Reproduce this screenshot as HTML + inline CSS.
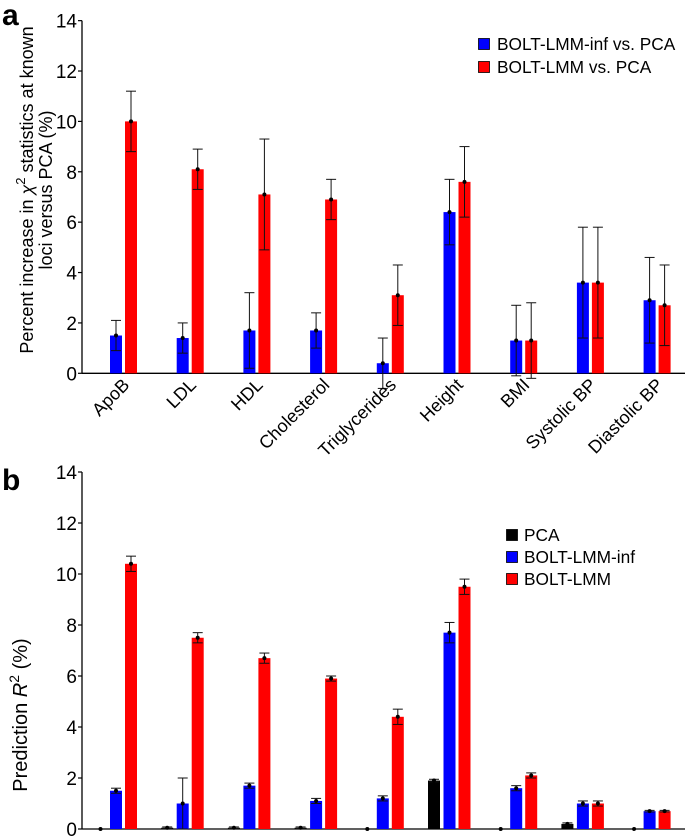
<!DOCTYPE html>
<html><head><meta charset="utf-8"><style>
html,body{margin:0;padding:0;background:#fff;}
svg{display:block;font-family:"Liberation Sans",sans-serif;}
</style></head><body>
<svg id="fig" width="685" height="838" viewBox="0 0 685 838"></svg>
<script>
const categories=["ApoB","LDL","HDL","Cholesterol","Triglycerides","Height","BMI","Systolic BP","Diastolic BP"];
const aBlue=[1.5,1.4,1.7,1.7,0.4,6.4,1.3,3.6,2.9];
const aBlueErr=[0.6,0.6,1.5,0.7,1.0,1.3,1.4,2.2,1.7];
const aRed=[10,8.1,7.1,6.9,3.1,7.6,1.3,3.6,2.7];
const aRedErr=[1.2,0.8,2.2,0.8,1.2,1.4,1.5,2.2,1.6];
const bPca=[0,0.05,0.05,0.05,0,1.9,0,0.2,0];
const bPcaErr=[0,0.03,0.03,0.03,0,0.05,0,0.04,0];
const bBlue=[1.5,1.0,1.7,1.1,1.2,7.7,1.6,1.0,0.7];
const bBlueErr=[0.1,1.0,0.1,0.1,0.1,0.4,0.1,0.1,0.03];
const bRed=[10.4,7.5,6.7,5.9,4.4,9.5,2.1,1.0,0.7];
const bRedErr=[0.3,0.2,0.2,0.1,0.3,0.3,0.1,0.1,0.03];
const yTicks=[0,2,4,6,8,10,12,14];

const NS="http://www.w3.org/2000/svg";
const svg=document.getElementById('fig');
function el(t,a,p){const e=document.createElementNS(NS,t);for(const k in a)e.setAttribute(k,a[k]);(p||svg).appendChild(e);return e;}
const AX=82, GX0=123.5, GSTEP=66.7;
function gx(i){return GX0+i*GSTEP;}

function panel(y0,unit,name){
  const g=el('g',{});
  
  
  const ys=v=>y0-v*unit;
  const ax=el('line',{x1:AX,y1:ys(14),x2:AX,y2:y0,stroke:'#000','stroke-width':1.3},g);
  
  
  const bx=el('line',{x1:AX,y1:y0,x2:685,y2:y0,stroke:'#000','stroke-width':1.3},g);
  
  
  yTicks.forEach(t=>{
    el('line',{x1:AX-4,y1:ys(t),x2:AX,y2:ys(t),stroke:'#000','stroke-width':1.2},g);
    const tx=el('text',{x:AX-5,y:ys(t)+7,'text-anchor':'end','font-size':19},g);
    tx.textContent=t;
    
    
  });
  return {g,ys};
}
function bar(g,ys,x,w,v,e,col,nm){
  const r=el('rect',{x:x,y:ys(Math.max(v,0)),width:w,height:Math.abs(ys(0)-ys(v)),fill:col},g);
  
  
  const c=x+w/2;
  if(e>0){
    el('line',{x1:c,y1:ys(v-e),x2:c,y2:ys(v+e),stroke:'#111','stroke-width':1},g);
    el('line',{x1:c-5,y1:ys(v+e),x2:c+5,y2:ys(v+e),stroke:'#111','stroke-width':1},g);
    el('line',{x1:c-5,y1:ys(v-e),x2:c+5,y2:ys(v-e),stroke:'#111','stroke-width':1},g);
  }
  el('circle',{cx:c,cy:ys(v),r:2,fill:'#000'},g);
}

// Panel a
const A=panel(373.3,25.19,'panel-a');
categories.forEach((c,i)=>{
  bar(A.g,A.ys,gx(i)-13.5,12,aBlue[i],aBlueErr[i],'#0000ff','bar-bolt-lmm-inf-'+i);
  bar(A.g,A.ys,gx(i)+1.5,12,aRed[i],aRedErr[i],'#ff0000','bar-bolt-lmm-'+i);
  const t=el('text',{x:gx(i)+7,y:386,'text-anchor':'end','font-size':18,transform:`rotate(-45 ${gx(i)+7} 386)`},A.g);
  t.textContent=c;
  
  
});
// Panel b
const B=panel(829,25.5,'panel-b');
categories.forEach((c,i)=>{
  bar(B.g,B.ys,gx(i)-29,12,bPca[i],bPcaErr[i],'#000000','bar-pca-'+i);
  bar(B.g,B.ys,gx(i)-13.5,12,bBlue[i],bBlueErr[i],'#0000ff','bar-bolt-lmm-inf-b-'+i);
  bar(B.g,B.ys,gx(i)+1.5,12,bRed[i],bRedErr[i],'#ff0000','bar-bolt-lmm-b-'+i);
});
</script>
<svg style="position:absolute;left:0;top:0" width="685" height="838">
<g font-family="Liberation Sans, sans-serif">
<text x="2" y="25" font-size="30" font-weight="bold">a</text>
<text x="2" y="490" font-size="30" font-weight="bold">b</text>
<g transform="translate(33,190) rotate(-90)" font-size="18" text-anchor="middle">
<text x="0" y="0">Percent increase in <tspan font-style="italic">χ</tspan><tspan dy="-8" font-size="13">2</tspan><tspan dy="8"> statistics at known</tspan></text>
<text x="0" y="19">loci versus PCA (%)</text>
</g>
<text transform="translate(27,715) rotate(-90)" font-size="20" text-anchor="middle">Prediction <tspan font-style="italic">R</tspan><tspan dy="-8" font-size="14">2</tspan><tspan dy="8"> (%)</tspan></text>
<g font-size="17.3">
<rect x="478.5" y="38.5" width="11" height="11" fill="#0000ff" stroke="#000" stroke-width="0.8"/>
<text x="497" y="50">BOLT-LMM-inf vs. PCA</text>
<rect x="478.5" y="61.5" width="11" height="11" fill="#ff0000" stroke="#000" stroke-width="0.8"/>
<text x="497" y="73">BOLT-LMM vs. PCA</text>
</g>
<g font-size="17.3">
<rect x="506.5" y="529.5" width="11" height="11" fill="#000" stroke="#000" stroke-width="0.8"/>
<text x="524" y="541">PCA</text>
<rect x="506.5" y="551.5" width="11" height="11" fill="#0000ff" stroke="#000" stroke-width="0.8"/>
<text x="524" y="563">BOLT-LMM-inf</text>
<rect x="506.5" y="573.5" width="11" height="11" fill="#ff0000" stroke="#000" stroke-width="0.8"/>
<text x="524" y="585">BOLT-LMM</text>
</g>
</g>
</svg>
</body></html>
